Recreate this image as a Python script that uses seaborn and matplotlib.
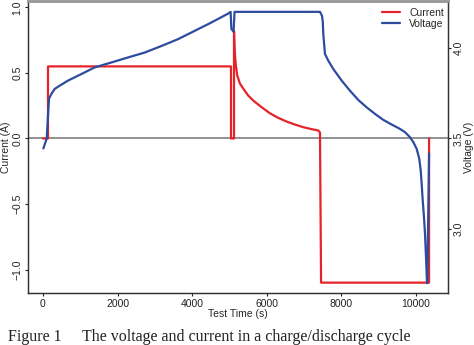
import matplotlib
matplotlib.use("Agg")
import matplotlib.pyplot as plt
import seaborn as sns

# Charge/discharge cycle: current (A) sampled over test time (s)
current_time = [0, 134, 134, 5040, 5040, 5121, 5121, 5139, 5166, 5209, 5282, 5370,
                5504, 5638, 5863, 6086, 6308, 6533, 6756, 6979, 7204, 7381, 7426,
                7455, 10350, 10350]
current_amps = [0.0, 0.0, 0.55, 0.55, 0.0, 0.0, 0.82, 0.669, 0.570, 0.479, 0.418,
                0.380, 0.327, 0.289, 0.238, 0.192, 0.157, 0.129, 0.106, 0.086,
                0.071, 0.061, 0.045, -1.1, -1.1, 0.0]

# Cell voltage (V) over the same cycle
voltage_time = [10, 100, 142, 161, 223, 314, 448, 670, 1027, 1386, 1831, 2279,
                2727, 3172, 3619, 4067, 4512, 4960, 5030, 5050, 5110, 5135,
                7426, 7480, 7499, 7515, 7560, 7649, 7783, 8008, 8231, 8453, 8678,
                8901, 9123, 9349, 9571, 9705, 9839, 9928, 10018, 10088, 10126,
                10152, 10180, 10214, 10241, 10268, 10295, 10303, 10350]
voltage_volts = [3.445, 3.50, 3.654, 3.719, 3.746, 3.774, 3.792, 3.82, 3.856, 3.893,
                 3.920, 3.948, 3.975, 4.011, 4.049, 4.095, 4.141, 4.19, 4.2, 4.106,
                 4.09, 4.2, 4.2, 4.178, 4.150, 4.077, 3.967, 3.930, 3.884, 3.820,
                 3.764, 3.713, 3.672, 3.636, 3.603, 3.577, 3.553, 3.535, 3.507,
                 3.480, 3.443, 3.388, 3.324, 3.25, 3.158, 3.066, 2.975, 2.846,
                 2.703, 2.70, 3.417]

x_ticks = [0, 2000, 4000, 6000, 8000, 10000]
current_ticks = [-1.0, -0.5, 0.0, 0.5, 1.0]
voltage_ticks = [3.0, 3.5, 4.0]

RED = "#e5232b"
BLUE = "#2e4c9e"

sns.set_style("ticks")
plt.rcParams["font.family"] = ["Liberation Sans", "DejaVu Sans"]
FS = 7.5

fig = plt.figure(figsize=(4.74, 3.45), dpi=100)
W, H = 474, 345
ax = fig.add_axes([28 / W, 1 - 293 / H, 420 / W, 292 / H])

ax.axhline(0, color="#7f7f7f", lw=1.2, zorder=1)
sns.lineplot(x=current_time, y=current_amps, sort=False, estimator=None,
             color=RED, lw=1.6, ax=ax, legend=False, zorder=2)
ax.set_xlim(-402, 10858)
ax.set_ylim(-1.179, 1.049)
ax.set_xticks(x_ticks)
ax.set_yticks(current_ticks)
ax.set_xticklabels([str(v) for v in x_ticks])
ax.set_yticklabels([f"{v:.1f}".replace("-", "\u2212") for v in current_ticks],
                   rotation=90, va="center")
ax.set_xlabel("Test Time (s)", fontsize=FS, labelpad=0.5)
ax.set_ylabel("Current (A)", fontsize=FS, labelpad=1)

ax2 = ax.twinx()
sns.lineplot(x=voltage_time, y=voltage_volts, sort=False, estimator=None,
             color=BLUE, lw=1.6, ax=ax2, legend=False)
ax2.set_ylim(2.646, 4.260)
ax2.set_yticks(voltage_ticks)
ax2.set_yticklabels([f"{v:.1f}" for v in voltage_ticks], rotation=90, va="center")
ax2.set_ylabel("Voltage (V)", fontsize=FS, labelpad=0)

for a in (ax, ax2):
    a.tick_params(labelsize=FS, length=2.5, width=0.8, pad=1.5, colors="#222222")
    for s in a.spines.values():
        s.set_linewidth(0.9)
        s.set_color("#333333")
    a.spines["top"].set_color("#9a9a9a")
    a.spines["top"].set_linewidth(2)
    a.grid(False)

handles = [ax.lines[-1], ax2.lines[-1]]
ax2.legend(handles, ["Current", "Voltage"], loc="upper right", frameon=False,
           fontsize=FS, handlelength=1.75, handletextpad=0.85, labelspacing=0.1,
           borderpad=0.1, borderaxespad=0.3, bbox_to_anchor=(1.0, 0.99))

serif = ["Liberation Serif", "DejaVu Serif"]
fig.text(8 / W, 4 / H, "Figure 1", family=serif, fontsize=11.5,
         va="baseline", ha="left", color="#222222")
fig.text(82 / W, 4 / H, "The voltage and current in a charge/discharge cycle",
         family=serif, fontsize=11.5, va="baseline", ha="left", color="#222222")

fig.savefig("out.png", dpi=100)
